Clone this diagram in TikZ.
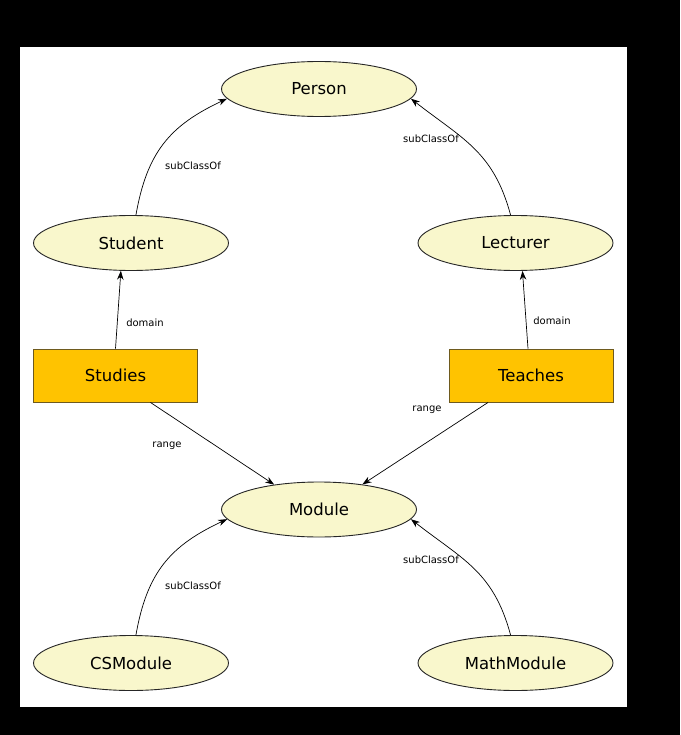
\documentclass[tikz,border=0pt]{standalone}
\usepackage{fontspec}
\setmainfont{DejaVu Sans}
\usetikzlibrary{shapes.geometric,arrows.meta}
\definecolor{ellfill}{HTML}{F9F7CC}
\definecolor{relfill}{HTML}{FFC300}
\definecolor{relborder}{HTML}{6E5A1E}
\begin{document}
\begin{tikzpicture}[x=1pt,y=1pt,
  cls/.style={ellipse, draw=black!85, line width=0.9pt, fill=ellfill,
    minimum width=195pt, minimum height=55pt, inner sep=0pt,
    font=\fontsize{16.5}{18}\selectfont},
  rel/.style={rectangle, draw=relborder, line width=0.9pt, fill=relfill,
    minimum width=164pt, minimum height=53pt, inner sep=0pt,
    font=\fontsize{16.5}{18}\selectfont},
  lbl/.style={font=\fontsize{10}{12}\selectfont, inner sep=0pt},
  conn/.style={-{Stealth[length=9pt,width=6.5pt]}, line width=0.7pt, black}]
\useasboundingbox (0,0) rectangle (680,-735);
\fill[black] (0,0) rectangle (680,-735);
\fill[white] (20,-47) rectangle (627,-707);

\node[cls] (person) at (319,-89) {Person};
\node[cls] (student) at (131,-243) {Student};
\node[cls] (lecturer) at (515.5,-243) {Lecturer};
\node[rel] (studies) at (115.5,-375.5) {Studies};
\node[rel] (teaches) at (531,-375.5) {Teaches};
\node[cls] (module) at (319,-509.5) {Module};
\node[cls] (csmodule) at (131,-663) {CSModule};
\node[cls] (mathmodule) at (515.5,-663) {MathModule};

\draw[conn] (student.80) to[out=80,in=205,looseness=1.1] (person.186);
\draw[conn] (lecturer.100) to[out=105,in=-38,looseness=1.1] (person.354);
\draw[conn] (studies.north) -- (student.250);
\draw[conn] ([xshift=-3pt]teaches.north) -- (lecturer.284);
\draw[conn] ([xshift=35pt]studies.south) -- (module.151);
\draw[conn] ([xshift=-43pt]teaches.south) -- (module.30);
\draw[conn] (csmodule.80) to[out=80,in=205,looseness=1.1] (module.186);
\draw[conn] (mathmodule.100) to[out=105,in=-38,looseness=1.1] (module.354);

\node[lbl] (l1) at (193,-166) {subClassOf};
\node[lbl] (l2) at (431,-139) {subClassOf};
\node[lbl] (l3) at (145,-323) {domain};
\node[lbl] (l4) at (552,-321) {domain};
\node[lbl] (l5) at (167,-446) {range};
\node[lbl] (l6) at (427,-410) {range};
\node[lbl] (l7) at (193,-586) {subClassOf};
\node[lbl] (l8) at (431,-560) {subClassOf};
\end{tikzpicture}
\end{document}
